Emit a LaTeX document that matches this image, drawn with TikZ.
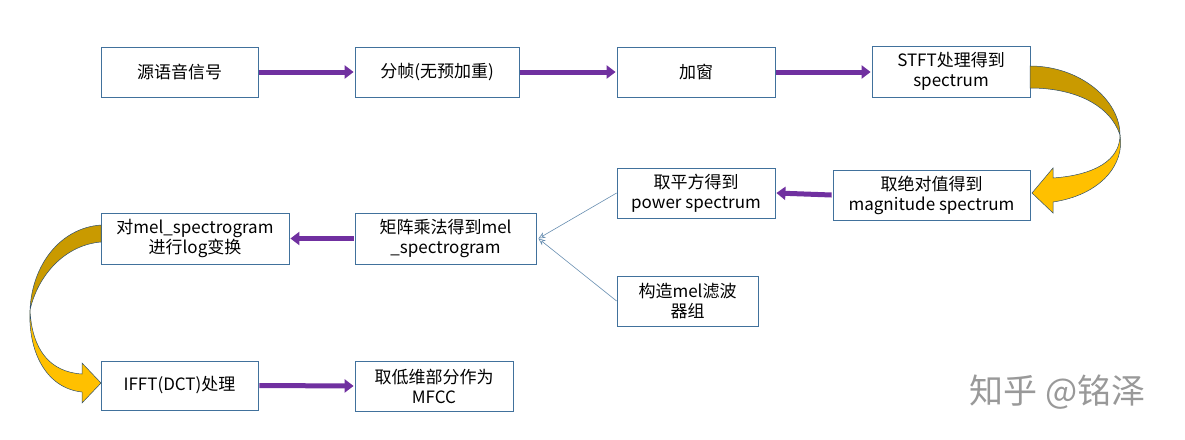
\documentclass[tikz,border=0pt]{standalone}
\usepackage{fontspec}
\setmainfont{Noto Sans CJK SC}
\usetikzlibrary{arrows.meta}
\definecolor{pur}{HTML}{7030A0}
\definecolor{bord}{HTML}{41719C}
\definecolor{gd}{HTML}{C99A00}
\definecolor{gl}{HTML}{FFC000}
\tikzset{
 bx/.style={draw=bord,line width=0.8pt,fill=white,font=\fontsize{17}{20}\selectfont,align=center,inner sep=0pt},
 pa/.style={draw=pur,line width=5pt,-{Triangle[length=9pt,width=13pt]}},
 ta/.style={draw=bord!80,line width=0.6pt,-{Stealth[length=7pt,width=6pt,open]}},
 rib/.style={draw=bord!70!black,line width=0.5pt}
}
\newcommand{\bxat}[5]{\node[bx,minimum width=#4-#2,minimum height=#5-#3] (#1) at ({(#2+#4)/2},{(#3+#5)/2}) }
\begin{document}
\begin{tikzpicture}[x=1pt,y=-1pt]
\useasboundingbox (0,0) rectangle (1185,439);
\bxat{a}{101}{47}{258}{97} {源语音信号};
\bxat{b}{355}{47}{519}{97} {分帧(无预加重)};
\bxat{c}{617}{47}{775}{97} {加窗};
\bxat{d}{872}{46}{1030}{97} {STFT处理得到\\spectrum};
\bxat{e}{833}{170}{1030}{220} {取绝对值得到\\magnitude spectrum};
\bxat{f}{617}{168}{775}{218} {取平方得到\\power spectrum};
\bxat{g}{355}{213}{536}{264} {矩阵乘法得到mel\\\_spectrogram};
\bxat{h}{101}{213}{289}{264} {对mel\_spectrogram\\进行log变换};
\bxat{k}{617}{276}{758}{326} {构造mel滤波\\器组};
\bxat{m}{101}{361}{258}{410} {IFFT(DCT)处理};
\bxat{n}{355}{361}{513}{411} {取低维部分作为\\MFCC};
\draw[pa] (a.east)++(1,0) -- ([xshift=-1pt]b.west);
\draw[pa] (b.east)++(1,0) -- ([xshift=-1pt]c.west);
\draw[pa] (c.east)++(1,0) -- ([xshift=-1pt]c.east-|d.west);
\draw[pa] (e.west)++(-1,0) -- ([xshift=1pt]f.east);
\draw[pa] (g.west)++(-1,0) -- ([xshift=1pt]g.west-|h.east);
\draw[pa] (m.east)++(1,0) -- ([xshift=-1pt]n.west);
\draw[ta] (f.west) -- ([xshift=2pt]g.east);
\draw[ta] (k.west) -- ([xshift=2pt]g.east);
% right ribbon
\fill[gd,rib] (1030,66) .. controls (1080,66) and (1120,100) .. (1120,135) .. controls (1110,105) and (1075,88) .. (1030,88) -- cycle;
\fill[gl,rib] (1120,135) .. controls (1120,160) and (1095,175) .. (1053,178) -- (1053,168) -- (1032,193) -- (1053,213) -- (1053,202) .. controls (1100,195) and (1125,165) .. (1120,135) -- cycle;
% left ribbon
\fill[gd,rib] (101,225) .. controls (60,228) and (32,265) .. (30,310) .. controls (38,275) and (65,245) .. (101,242) -- cycle;
\fill[gl,rib] (30,310) .. controls (32,350) and (50,372) .. (82,374) -- (82,363) -- (101,383) -- (82,403) -- (82,392) .. controls (45,388) and (28,350) .. (30,310) -- cycle;
\node[text=black!40,font=\fontsize{34}{38}\selectfont,anchor=west] (wm) at (966,392) {知乎 @铭泽};
\end{tikzpicture}
\end{document}
